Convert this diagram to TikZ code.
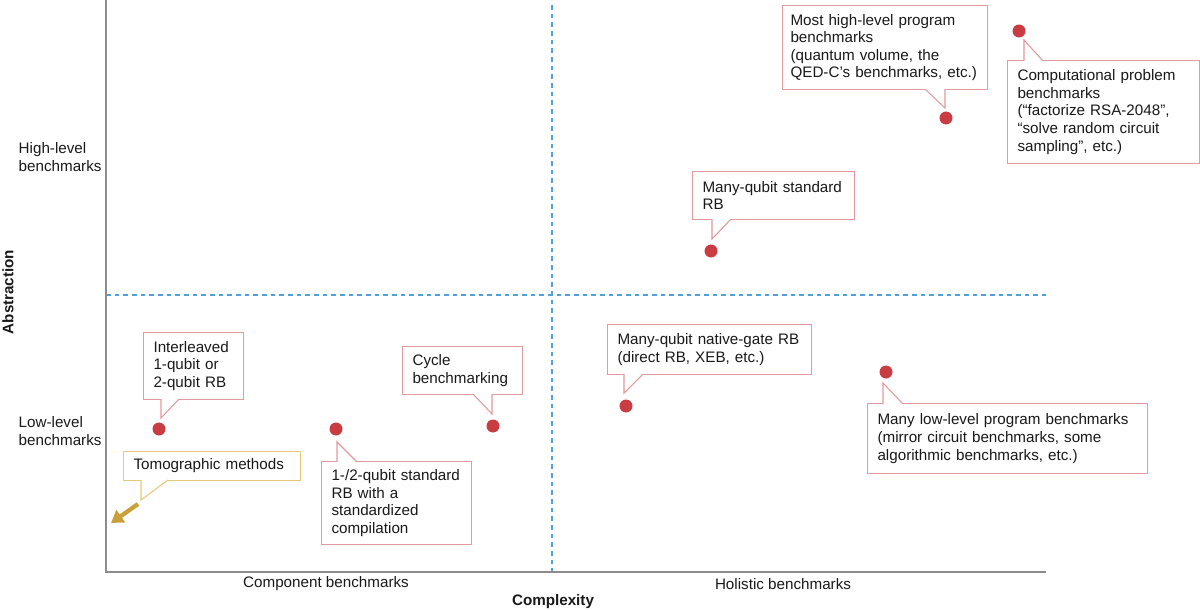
\documentclass[tikz,border=0pt]{standalone}
\usepackage{fontspec}
\setmainfont{Liberation Sans}
\usepackage{xcolor}
\usetikzlibrary{positioning,arrows.meta,calc}

\definecolor{dotred}{HTML}{C93C42}
\definecolor{boxred}{HTML}{E39A9A}
\definecolor{boxgold}{HTML}{E6C878}
\definecolor{arrowgold}{HTML}{C9A03A}
\definecolor{dashblue}{HTML}{4FA2D8}
\definecolor{axisgray}{HTML}{8C8C8C}

\tikzset{
  bench/.style 2 args={draw=boxred, line width=0.8pt, fill=white, anchor=north west,
    align=left, inner xsep=7.5pt, inner ysep=0pt, text width=#1, minimum height=#2,
    font=\fontsize{11.4}{13.2}\selectfont, text=black!90},
  benchdot/.style={circle, fill=dotred, minimum size=9.75pt, inner sep=0pt},
  axislabel/.style={font=\fontsize{11.4}{13.2}\selectfont, text=black!90},
  midline/.style={dashblue, line width=0.85pt, dash pattern=on 3.5pt off 3pt},
}

% callout tail: base point, apex, base point
\newcommand{\calltail}[4][boxred]{%
  \fill[white] #2 -- #3 -- #4 -- cycle;
  \draw[#1, line width=0.8pt] #2 -- #3 -- #4;}

\begin{document}
\begin{tikzpicture}[x=0.75pt, y=-0.75pt]
\useasboundingbox (0,0) rectangle (1200,610);

% ===== Axes and quadrants =====
\coordinate (origin) at (106,572);
\coordinate (ytop) at (106,0);
\coordinate (xend) at (1046,572);
\coordinate (vtop) at (552,5);
\coordinate (vbot) at (552,572);
\coordinate (hleft) at (106,295);
\coordinate (hright) at (1046,295);

\draw[midline] (vtop) -- (vbot);
\draw[midline] (hleft) -- (hright);
\draw[axisgray, line width=0.9pt] (ytop) -- (origin) -- (xend);

% Axis labels
\node[axislabel, anchor=west, align=left] (highlab) at (14,157) {High-level\\benchmarks};
\node[axislabel, anchor=west, align=left] (lowlab) at (14,431) {Low-level\\benchmarks};
\node[axislabel, font=\fontsize{11.4}{13.2}\selectfont\bfseries, rotate=90] (abstr) at (8,292) {Abstraction};
\node[axislabel] (compo) at (326,584) {Component benchmarks};
\node[axislabel] (holis) at (783,584) {Holistic benchmarks};
\node[axislabel, font=\fontsize{11.4}{13.2}\selectfont\bfseries] (cplx) at (553,602) {Complexity};

% ===== Benchmark points =====
\node[benchdot] (dilv) at (159,429) {};
\node[benchdot] (dstd) at (336,429) {};
\node[benchdot] (dcyc) at (493,426) {};
\node[benchdot] (dnat) at (626,406) {};
\node[benchdot] (dmany) at (711,251) {};
\node[benchdot] (dhigh) at (946,118) {};
\node[benchdot] (dcomp) at (1019,31) {};
\node[benchdot] (dlow) at (886,372) {};

% ===== Callout boxes =====
\node[bench={60pt}{50.25pt}] (ilv) at (143,332) {Interleaved\\1-qubit or\\2-qubit RB};
\node[bench={117.75pt}{21.75pt}, draw=boxgold] (tomo) at (123,451) {Tomographic methods};
\node[bench={97.5pt}{62.25pt}] (std) at (321,461) {1-/2-qubit standard\\RB with a\\standardized\\compilation};
\node[bench={75pt}{36pt}] (cyc) at (402,346) {Cycle\\benchmarking};
\node[bench={138pt}{37.5pt}] (nat) at (607,324) {Many-qubit native-gate RB\\(direct RB, XEB, etc.)};
\node[bench={106.5pt}{36pt}] (many) at (692,171) {Many-qubit standard\\RB};
\node[bench={141.75pt}{63pt}, inner xsep=6pt] (high) at (782,5) {Most high-level program\\benchmarks\\(quantum volume, the\\QED-C’s benchmarks, etc.)};
\node[bench={129pt}{77.25pt}] (comp) at (1007,60) {Computational problem\\benchmarks\\(“factorize RSA-2048”,\\“solve random circuit\\sampling”, etc.)};
\node[bench={195pt}{52.5pt}] (low) at (867,403) {Many low-level program benchmarks\\(mirror circuit benchmarks, some\\algorithmic benchmarks, etc.)};

% Tails
\calltail{($(ilv.south west)+(18,-1)$)}{($(dilv)+(2,-11)$)}{($(ilv.south west)+(36,-1)$)}
\calltail{($(std.north west)+(16,1)$)}{($(dstd)+(1,13)$)}{($(std.north west)+(36,1)$)}
\calltail{($(cyc.south west)+(71,-1)$)}{($(dcyc)+(-1,-12)$)}{($(cyc.south west)+(90,-1)$)}
\calltail{($(nat.south west)+(17,-1)$)}{($(dnat)+(-2,-13)$)}{($(nat.south west)+(36,-1)$)}
\calltail{($(many.south west)+(20,-1)$)}{($(dmany)+(1,-12)$)}{($(many.south west)+(39,-1)$)}
\calltail{($(high.south west)+(143,-1)$)}{($(dhigh)+(-1,-10)$)}{($(high.south west)+(163,-1)$)}
\calltail{($(comp.north west)+(17,1)$)}{($(dcomp)+(5,9)$)}{($(comp.north west)+(36,1)$)}
\calltail{($(low.north west)+(16,1)$)}{($(dlow)+(-3,11)$)}{($(low.north west)+(36,1)$)}

% Tomographic methods: off the chart
\coordinate (tomoapex) at (141,500);
\coordinate (arrstart) at (138,504);
\coordinate (arrtip) at (111,523);
\calltail[boxgold]{($(tomo.south west)+(18,-1)$)}{(tomoapex)}{($(tomo.south west)+(45,-1)$)}
\draw[arrowgold, line width=3.2pt, -{Triangle[length=9pt, width=11pt]}] (arrstart) -- (arrtip);

\end{tikzpicture}
\end{document}
